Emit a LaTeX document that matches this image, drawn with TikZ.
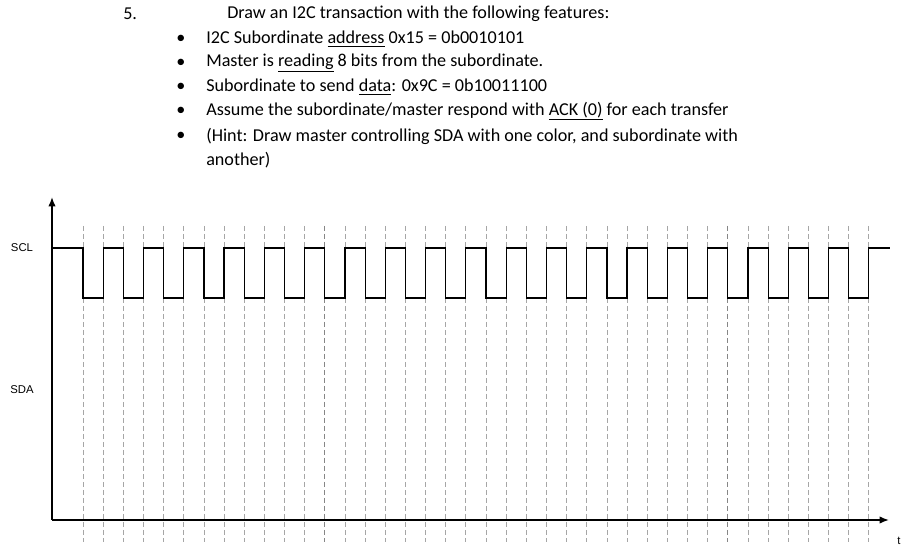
\documentclass[tikz,border=0pt]{standalone}
\usepackage{fontspec}
\usetikzlibrary{arrows.meta}
\setmainfont{Carlito}
\newfontfamily\labelfont{Liberation Sans}

\tikzset{
  task/.style={anchor=west, inner sep=0pt, font=\fontsize{13.6}{15}\selectfont},
  siglabel/.style={inner sep=0pt, font=\labelfont\fontsize{8.5}{10}\selectfont},
  edgeline/.style={gray!70, line width=0.6pt, dash pattern=on 3.5pt off 2.5pt},
}

\begin{document}
\begin{tikzpicture}[x=0.75pt,y=-0.75pt]
  \useasboundingbox (0,0) rectangle (903,548);

  % the task text
  \node[task] (num) at (123,14) {5.};
  \node[task] (title) at (227,14) {Draw an I2C transaction with the following features:};
  \foreach \y in {39,63,87,111,136}
    \node[task, anchor=center] (dot\y) at (181,\y) {\textbullet};
  \node[task] (addr) at (206,39) {I2C Subordinate \underline{address} 0x15 = 0b0010101};
  \node[task] (read) at (206,63) {Master is \underline{reading} 8 bits from the subordinate.};
  \node[task] (data) at (206,87) {Subordinate to send \underline{data}: 0x9C = 0b10011100};
  \node[task] (ack) at (206,111) {Assume the subordinate/master respond with \underline{ACK (0)} for each transfer};
  \node[task] (hint) at (206,136) {(Hint: Draw master controlling SDA with one color, and subordinate with};
  \node[task] (hint2) at (206,160) {another)};

  % clock edges
  \foreach \k in {0,...,39}
    \draw[edgeline] ({83+20.15*\k},226) -- ({83+20.15*\k},542);
  \foreach \k in {12,32}
    \draw[edgeline, gray!95, line width=0.9pt] ({83+20.15*\k},226) -- ({83+20.15*\k},542);

  % axes
  \coordinate (origin) at (52,520);
  \coordinate (ytop) at (52,197);
  \coordinate (xend) at (889,520);
  \draw[-{Latex[length=7pt,width=5.5pt]}, line width=1.1pt] (origin) -- (ytop);
  \draw[-{Latex[length=7pt,width=5.5pt]}, line width=1.1pt] (origin) -- (xend);
  \node[siglabel] (tlab) at (899,541) {t};

  % SCL
  \node[siglabel] (scl) at (22,248) {SCL};
  \node[siglabel] (sda) at (22,390) {SDA};
  \draw[line width=0.9pt] (52,248)
    \foreach \k in {0,...,19} {
      -- ({83+40.3*\k},248) -- ({83+40.3*\k},298)
      -- ({103.15+40.3*\k},298) -- ({103.15+40.3*\k},248)
    } -- (890,248);
\end{tikzpicture}
\end{document}
